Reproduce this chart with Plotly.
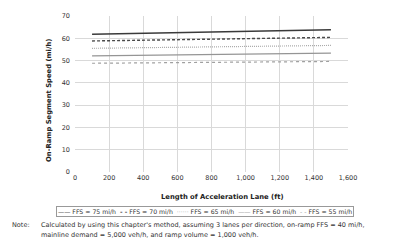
import plotly.graph_objects as go

lane_length = [100, 1500]
ffs_labels = ["FFS = 75 mi/h", "FFS = 70 mi/h", "FFS = 65 mi/h", "FFS = 60 mi/h", "FFS = 55 mi/h"]
speed_75 = [61.8, 63.8]
speed_70 = [58.8, 60.4]
speed_65 = [55.5, 56.8]
speed_60 = [52.1, 53.3]
speed_55 = [48.8, 49.6]
x_ticks = [0, 200, 400, 600, 800, 1000, 1200, 1400, 1600]
x_tick_labels = ["0", "200", "400", "600", "800", "1,000", "1,200", "1,400", "1,600"]
y_ticks = [0, 10, 20, 30, 40, 50, 60, 70]

series = [speed_75, speed_70, speed_65, speed_60, speed_55]
styles = [
    dict(color="#3a3a3a", width=1.6, dash="solid"),
    dict(color="#4a4a4a", width=1.4, dash="3px,2px"),
    dict(color="#a8a8a8", width=1.2, dash="1px,1px"),
    dict(color="#959595", width=1.3, dash="solid"),
    dict(color="#a0a0a0", width=1.2, dash="3px,3px"),
]

W, H = 400, 243
L, R, T, B = 75, 52, 14, 71
ph = H - T - B
pw = W - L - R

def py(p):
    return (H - B - p) / ph

def px(p):
    return (p - L) / pw

fig = go.Figure()
for lab, ys, st in zip(ffs_labels, series, styles):
    fig.add_trace(go.Scatter(x=lane_length, y=ys, mode="lines", name=lab,
                             line=st, showlegend=False))

font = "DejaVu Sans"
fig.update_layout(
    width=W, height=H,
    margin=dict(l=L, r=R, t=T, b=B),
    paper_bgcolor="white", plot_bgcolor="white",
    font=dict(family=font, size=7, color="#333"),
    xaxis=dict(range=[0, 1600], tickvals=x_ticks, ticktext=x_tick_labels,
               showgrid=True, gridcolor="#d9d9d9", gridwidth=1, zeroline=False,
               showline=False, ticks="", tickfont=dict(size=6.5, color="#333")),
    yaxis=dict(range=[0, 70], tickvals=y_ticks, showgrid=True, gridcolor="#d9d9d9",
               zeroline=False, showline=False, ticks="", tickfont=dict(size=6.5, color="#333"),
               ticklabelstandoff=4),
)

sym = [
    "<span style='color:#3a3a3a'>——</span>",
    "<span style='color:#4a4a4a'><b>- -</b></span>",
    "<span style='color:#a8a8a8'>······</span>",
    "<span style='color:#959595'>——</span>",
    "<span style='color:#a0a0a0'>- -</span>",
]
legend_text = "  ".join(s + " " + lab for s, lab in zip(sym, ffs_labels))

anns = [
    dict(text="<b>Length of Acceleration Lane (ft)</b>", x=px(222), y=py(197),
         font=dict(size=6.8, color="#222")),
    dict(text="<b>On-Ramp Segment Speed (mi/h)</b>", x=px(49), y=py(100), textangle=-90,
         font=dict(size=6.8, color="#222")),
    dict(text=legend_text, x=px(205), y=py(212.5), bordercolor="#999", borderwidth=1,
         borderpad=1, font=dict(size=6.2, color="#333")),
    dict(text="Note:", x=px(10), y=py(226), xanchor="left", font=dict(size=6.5, color="#333")),
    dict(text="Calculated by using this chapter's method, assuming 3 lanes per direction, on-ramp FFS = 40 mi/h,",
         x=px(39), y=py(226), xanchor="left", font=dict(size=6.5, color="#333")),
    dict(text="mainline demand = 5,000 veh/h, and ramp volume = 1,000 veh/h.",
         x=px(39), y=py(236), xanchor="left", font=dict(size=6.5, color="#333")),
]
for a in anns:
    a.setdefault("xanchor", "center")
    fig.add_annotation(xref="paper", yref="paper", showarrow=False, yanchor="middle", **a)

fig.write_html("out.html")
